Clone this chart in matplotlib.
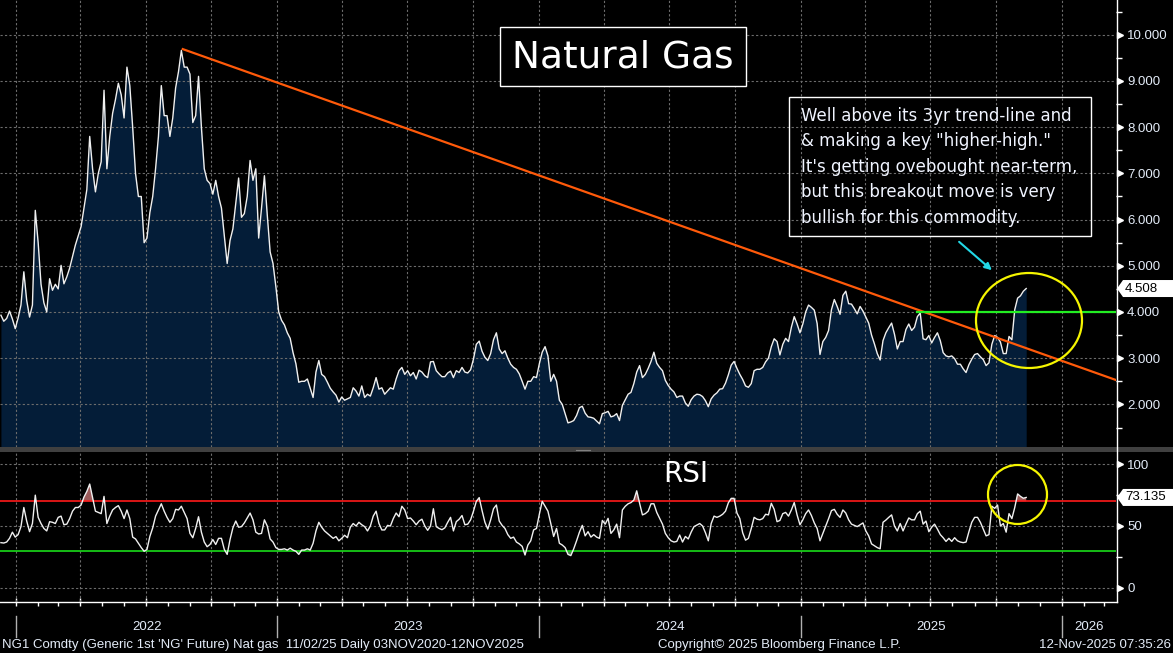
import numpy as np
import pandas as pd
import matplotlib
matplotlib.use('Agg')
import matplotlib.pyplot as plt
import matplotlib.dates as mdates
import matplotlib.transforms as mtransforms
from matplotlib.patches import Rectangle, Ellipse, Polygon, FancyArrowPatch
from matplotlib.lines import Line2D
from matplotlib.ticker import FormatStrFormatter, FixedLocator

plt.rcParams['font.family'] = ['Liberation Sans', 'DejaVu Sans']

# ---------------- data (every 4 days) ----------------
price = [
    3.93, 3.80, 3.86, 4.02, 3.85, 3.64, 3.87, 4.15, 4.87, 4.25,
    3.89, 4.15, 6.20, 5.50, 4.60, 4.20, 4.00, 4.72, 4.47, 4.60,
    4.50, 5.01, 4.61, 4.76, 4.95, 5.20, 5.45, 5.65, 5.85, 6.25,
    6.65, 7.80, 7.10, 6.60, 7.00, 7.25, 8.80, 7.10, 7.80, 8.30,
    8.60, 8.95, 8.70, 8.20, 9.30, 8.90, 8.00, 7.00, 6.50, 6.50,
    5.50, 5.60, 6.15, 6.50, 7.10, 7.80, 8.90, 8.25, 8.25, 7.80,
    8.20, 8.85, 9.20, 9.66, 9.30, 9.30, 9.15, 8.10, 8.25, 9.10,
    8.00, 7.10, 6.85, 6.78, 6.55, 6.85, 6.50, 6.25, 5.65, 5.05,
    5.55, 5.80, 6.35, 6.90, 6.05, 6.13, 6.50, 7.28, 6.85, 7.10,
    5.60, 6.25, 6.95, 6.10, 5.30, 5.05, 4.55, 4.00, 3.82, 3.72,
    3.55, 3.43, 3.12, 2.88, 2.48, 2.50, 2.50, 2.55, 2.35, 2.15,
    2.70, 2.95, 2.65, 2.60, 2.48, 2.35, 2.27, 2.20, 2.05, 2.16,
    2.09, 2.12, 2.15, 2.36, 2.29, 2.18, 2.40, 2.15, 2.22, 2.18,
    2.36, 2.58, 2.33, 2.36, 2.22, 2.29, 2.36, 2.33, 2.55, 2.73,
    2.80, 2.65, 2.73, 2.62, 2.69, 2.55, 2.74, 2.70, 2.62, 2.58,
    2.92, 2.93, 2.73, 2.66, 2.60, 2.60, 2.68, 2.72, 2.58, 2.73,
    2.69, 2.80, 2.70, 2.68, 2.75, 2.98, 3.30, 3.37, 3.15, 3.02,
    2.95, 3.10, 3.40, 3.55, 3.20, 3.10, 3.16, 3.00, 2.87, 2.80,
    2.76, 2.66, 2.50, 2.33, 2.50, 2.50, 2.60, 2.58, 2.88, 3.13,
    3.25, 3.05, 2.50, 2.65, 2.50, 2.09, 2.00, 1.80, 1.60, 1.62,
    1.65, 1.76, 1.93, 1.96, 1.81, 1.73, 1.72, 1.70, 1.64, 1.58,
    1.80, 1.82, 1.85, 1.73, 1.75, 1.80, 1.65, 1.98, 2.10, 2.22,
    2.26, 2.45, 2.70, 2.84, 2.58, 2.65, 2.78, 2.93, 3.13, 2.89,
    2.80, 2.73, 2.52, 2.41, 2.33, 2.27, 2.15, 2.18, 2.18, 2.03,
    1.96, 2.10, 2.18, 2.22, 2.21, 2.17, 2.08, 1.95, 2.12, 2.20,
    2.25, 2.33, 2.34, 2.46, 2.64, 2.85, 2.93, 2.78, 2.65, 2.54,
    2.40, 2.37, 2.45, 2.73, 2.76, 2.76, 2.80, 2.92, 3.00, 3.25,
    3.42, 3.36, 3.07, 3.30, 3.43, 3.36, 3.67, 3.90, 3.74, 3.55,
    3.74, 4.00, 4.15, 4.10, 4.04, 3.75, 3.08, 3.36, 3.45, 3.60,
    4.05, 4.27, 4.12, 3.95, 4.36, 4.45, 4.18, 4.17, 4.07, 3.96,
    4.12, 4.02, 3.89, 3.76, 3.50, 3.31, 3.10, 2.96, 3.38, 3.55,
    3.66, 3.76, 3.52, 3.20, 3.36, 3.36, 3.62, 3.74, 3.60, 3.67,
    3.90, 3.98, 3.42, 3.40, 3.49, 3.33, 3.45, 3.55, 3.38, 3.12,
    3.05, 3.03, 3.05, 2.99, 2.87, 2.87, 2.77, 2.69, 2.86, 2.98,
    3.08, 3.10, 3.03, 2.97, 2.84, 2.90, 3.30, 3.49, 3.45, 3.35,
    3.10, 3.10, 3.47, 3.40, 4.05, 4.30, 4.35, 4.45, 4.508,
]

rsi = [
    36.5, 36.2, 37, 40, 45, 41, 43, 49.5, 65, 54,
    45.4, 52, 75, 57, 52, 48, 46, 53.5, 53, 52,
    57, 58, 51, 51.5, 56, 62, 65, 65, 67, 73.5,
    78, 84, 73, 62, 61, 60, 74, 52, 58, 63,
    65, 66.5, 62, 56, 63, 56, 41, 39.5, 36, 32.5,
    29.5, 31, 41.5, 48.5, 58, 63, 68, 62, 57, 53,
    56, 63.5, 63, 66, 61, 56, 44, 40.5, 48, 57.5,
    45, 37, 33.2, 35, 39, 35, 40, 40, 31, 27,
    39, 48.5, 54, 49, 49.5, 52.5, 56.5, 60.5, 55, 45,
    43.5, 44, 55, 50, 39.5, 37, 32.5, 31, 31, 31.5,
    30.5, 32, 30.5, 29.5, 27, 30.5, 30.5, 31.5, 30.5, 36,
    46, 53, 49, 46, 44, 42, 40, 41.4, 38, 40,
    42.5, 40.5, 49, 52, 50, 53, 51, 49.5, 46, 50,
    58, 62, 52, 46.8, 46.8, 50.5, 50, 56, 60.5, 57.5,
    66, 63, 56, 56.5, 54, 51, 54, 55.5, 50, 46.5,
    50, 64, 49.5, 48, 47, 48.5, 53, 57, 46, 53.5,
    55.5, 58.5, 51, 51.5, 55, 62, 70, 73, 62.5, 53,
    47.5, 55, 64, 67, 54, 50.5, 48, 43, 40, 41,
    37, 35.5, 33.5, 26.5, 34.6, 38, 46.8, 48, 59.5, 70,
    66, 62, 52, 41.5, 48, 36, 34.6, 32.5, 27, 26,
    31.5, 38, 45, 50.5, 42, 45.4, 41, 43, 41, 40,
    54.5, 51.5, 56.2, 44, 46.8, 51.5, 40.5, 63, 66, 68,
    69, 71, 78.5, 68.5, 59, 60, 62, 68, 68, 61,
    56.2, 51.5, 44, 40.5, 38, 37, 37.5, 42.7, 37, 41.5,
    39.5, 45, 49.5, 50.8, 52, 50, 44.5, 38, 52, 58,
    57, 58, 59.5, 62, 68.8, 72.4, 72.4, 60.5, 56, 44.5,
    38.5, 40, 48, 57, 55.5, 55, 56, 59.5, 59, 68.4,
    63.5, 53.5, 54.5, 60, 61, 58, 63, 69, 59, 51,
    55, 60, 63, 58.5, 52.5, 48, 38, 44, 50, 56,
    62.5, 63.5, 59.5, 57, 63, 60.5, 55, 51.5, 50.5, 49.5,
    51, 52.5, 46, 42, 35.5, 34, 32.5, 31.5, 53, 54.8,
    57, 59, 50, 46, 52, 46, 51.5, 56.5, 55, 55,
    60, 62, 51.5, 54, 45.4, 49, 51.5, 47.5, 43, 40.5,
    37.5, 40, 37.5, 40.5, 38, 37, 36.5, 37, 45.4, 53,
    57, 57, 53, 47.5, 42, 43, 66, 64.3, 67, 50,
    52, 45, 60, 56, 65, 76, 74, 72.5, 73.135,
]

dates = pd.date_range(end='2025-11-12', periods=len(price), freq='4D')

trend_dates = pd.to_datetime(['2022-08-22', '2026-03-17'])
trend_vals = [9.69, 2.53]
resist_dates = pd.to_datetime(['2025-06-13', '2026-03-17'])
resist_vals = [4.0, 4.0]

price_ticks = [2, 3, 4, 5, 6, 7, 8, 9, 10]
rsi_ticks = [0, 50, 100]
years = [2022, 2023, 2024, 2025, 2026]

title = "Natural Gas"
note_lines = [
    "Well above its 3yr trend-line and",
    "& making a key \"higher-high.\"",
    "It's getting ovebought near-term,",
    "but this breakout move is very",
    "bullish for this commodity.",
]
footer_left = "NG1 Comdty (Generic 1st 'NG' Future) Nat gas  11/02/25 Daily 03NOV2020-12NOV2025"
footer_mid = "Copyright\u00a9 2025 Bloomberg Finance L.P."
footer_right = "12-Nov-2025 07:35:26"

# ---------------- layout ----------------
W, H = 1173, 653
fig = plt.figure(figsize=(W / 100, H / 100), dpi=100, facecolor='black')
ID = mtransforms.IdentityTransform()


def fx(x):
    return x / W


def fy(y):
    return 1 - y / H


AXR = 1116
LBL = '#e4ecf8'
GRID = '#6c6c6c'
DASH = (0, (2, 2))
FS = 9.5

ax = fig.add_axes([0, fy(447), fx(AXR), 447 / H])
ax2 = fig.add_axes([0, fy(602), fx(AXR), (602 - 452) / H])
xlo = pd.Timestamp('2021-12-09 17:00')
xhi = pd.Timestamp('2026-03-17 10:00')
for a in (ax, ax2):
    a.set_facecolor('black')
    for s in a.spines.values():
        s.set_visible(False)
    a.set_xlim(xlo, xhi)
ax.set_ylim(1.078, 10.753)
ax2.set_ylim(-11.6, 109.97)

quarters = pd.date_range('2022-01-01', '2026-01-01', freq='QS')
for a in (ax, ax2):
    for q in quarters:
        a.axvline(q, color=GRID, lw=0.8, ls=DASH, zorder=2)
for v in price_ticks:
    ax.axhline(v, color=GRID, lw=0.8, ls=DASH, zorder=2)
for v in rsi_ticks:
    ax2.axhline(v, color=GRID, lw=0.8, ls=DASH, zorder=2)

# price panel
p = np.array(price)
ax.fill_between(dates, p, 0, color='#041d38', lw=0, zorder=1)
ax.plot(dates, p, color='#f0f0f0', lw=1.0, zorder=3)
ax.plot(trend_dates, trend_vals, color='#ff5a0a', lw=1.6, zorder=4)
ax.plot(resist_dates, resist_vals, color='#22ee22', lw=1.6, zorder=4)

# RSI panel
r = np.array(rsi)
ax2.axhline(70, color='#ff1a1a', lw=1.2, zorder=3)
ax2.axhline(30, color='#1adc1a', lw=1.2, zorder=3)
ax2.fill_between(dates, 70, r, where=r >= 70, interpolate=True, color='#9a5a5a', lw=0, zorder=2.5)
ax2.fill_between(dates, 30, r, where=r <= 30, interpolate=True, color='#4f7a4f', lw=0, zorder=2.5)
ax2.plot(dates, r, color='#f0f0f0', lw=1.0, zorder=4)


# right axes
def right_axis(a, ticks, minor, fmt):
    a.yaxis.tick_right()
    a.yaxis.set_major_locator(FixedLocator(ticks))
    a.yaxis.set_minor_locator(FixedLocator(minor))
    a.yaxis.set_major_formatter(FormatStrFormatter(fmt))
    a.tick_params(axis='y', which='major', length=0, pad=8, labelcolor=LBL, labelsize=FS)
    a.tick_params(axis='y', which='minor', length=4, width=1, color='white')
    tr = mtransforms.blended_transform_factory(a.transAxes, a.transData) + \
        mtransforms.ScaledTranslation(3.5 / 100, 0, fig.dpi_scale_trans)
    a.plot([1] * len(ticks), ticks, ls='none', marker='>', ms=4.5, color='white',
           transform=tr, clip_on=False, zorder=5)


right_axis(ax, price_ticks, [v + 0.5 for v in [1] + price_ticks], '%.3f')
right_axis(ax2, rsi_ticks, [25, 75], '%d')
ax.tick_params(axis='x', which='both', length=0, labelbottom=False)

ax2.xaxis.set_major_locator(mdates.MonthLocator(bymonth=[1, 4, 7, 10]))
ax2.xaxis.set_minor_locator(mdates.MonthLocator())
ax2.tick_params(axis='x', which='major', length=6, width=1, color='white', direction='inout', labelbottom=False)
ax2.tick_params(axis='x', which='minor', length=3, width=1, color='white', direction='out')

# frame lines
fig.add_artist(Rectangle((0, fy(452)), 1, 5 / H, transform=fig.transFigure, color='#404040', lw=0))
fig.add_artist(Line2D([fx(576), fx(590)], [fy(449.5)] * 2, transform=fig.transFigure, color='#808080', lw=0.8))
fig.add_artist(Line2D([fx(AXR + 0.5)] * 2, [fy(0), fy(602)], transform=fig.transFigure, color='white', lw=1))
fig.add_artist(Line2D([0, fx(AXR + 0.5)], [fy(602)] * 2, transform=fig.transFigure, color='white', lw=1))

# year separators and labels
bt = mtransforms.blended_transform_factory(ax2.transData, fig.transFigure)
for y in years:
    d = mdates.date2num(pd.Timestamp(f'{y}-01-01'))
    fig.add_artist(Line2D([d, d], [fy(616), fy(637)], transform=bt, color='#b0b0b0', lw=1))
    end = min(mdates.date2num(pd.Timestamp(f'{y + 1}-01-01')), mdates.date2num(xhi))
    fig.text((d + end) / 2, fy(627), str(y), transform=bt, ha='center', va='center',
             color=LBL, fontsize=FS)

fig.text(fx(2), fy(645), footer_left, ha='left', va='center', color=LBL, fontsize=FS)
fig.text(fx(658), fy(645), footer_mid, ha='left', va='center', color=LBL, fontsize=FS)
fig.text(fx(1171), fy(645), footer_right, ha='right', va='center', color=LBL, fontsize=FS)


# value tags
def value_tag(a, val, txt):
    yc = a.transData.transform((0, val))[1]
    x0 = AXR + 1
    pts = [(x0, yc), (x0 + 6, yc + 8.5), (W, yc + 8.5), (W, yc - 8.5), (x0 + 6, yc - 8.5)]
    fig.add_artist(Polygon(pts, closed=True, transform=ID, facecolor='white', edgecolor='none'))
    fig.text(x0 + 8, yc, txt, transform=ID, ha='left', va='center', color='black', fontsize=FS)


value_tag(ax, price[-1], f'{price[-1]:.3f}')
value_tag(ax2, rsi[-1], f'{rsi[-1]:.3f}')

# title box
fig.add_artist(Rectangle((500, H - 86), 246, 59, transform=ID, facecolor='black', edgecolor='white', lw=1))
fig.text(623, H - 57, title, transform=ID, ha='center', va='center', color='white',
         fontsize=27, family='DejaVu Sans')

# note box
fig.add_artist(Rectangle((788.5, H - 235.7), 302, 138.4, transform=ID, fill=False, edgecolor='white', lw=1))
for i, line in enumerate(note_lines):
    fig.text(800.7, H - (120.7 + 25.5 * i), line, transform=ID, ha='left', va='baseline',
             color='#f0f4ff', fontsize=12, family='DejaVu Sans')

fig.add_artist(FancyArrowPatch((957, H - 240), (994, H - 272), transform=ID, arrowstyle='-|>',
                               mutation_scale=10, color='#22d8e6', lw=1.5))

# RSI label
fig.text(686, H - 473.5, 'RSI', transform=ID, ha='center', va='center', color='white',
         fontsize=20, family='DejaVu Sans')

# highlight circles
fig.add_artist(Ellipse((1029, H - 320.5), 106, 95, transform=ID, fill=False, edgecolor='#f5f500', lw=1.6))
fig.add_artist(Ellipse((1017.5, H - 494.5), 59, 59, transform=ID, fill=False, edgecolor='#f5f500', lw=1.6))

fig.savefig('out.png', dpi=100, facecolor='black')
